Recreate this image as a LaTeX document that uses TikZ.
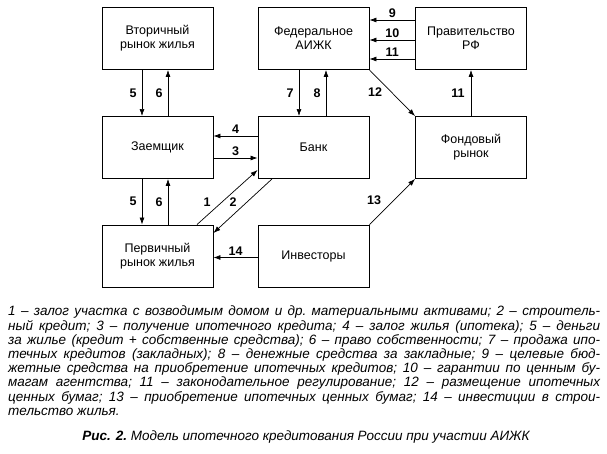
\documentclass[tikz,border=0pt]{standalone}
\usepackage{fontspec}
\setmainfont{Liberation Sans}
\usetikzlibrary{arrows.meta}

\begin{document}
\begin{tikzpicture}[x=1pt,y=-1pt,
  box/.style={draw, line width=0.9pt, minimum width=111pt, minimum height=62pt,
    inner sep=0pt, align=center, font=\fontsize{12.5}{14}\selectfont},
  arr/.style={-{Latex[length=7pt,width=5pt]}, line width=0.7pt},
  num/.style={font=\bfseries\fontsize{12.5}{14}\selectfont, inner sep=1pt}]
  \useasboundingbox (0,0) rectangle (607,454);
  % boxes
  \node[box] (vtor) at (157.5,38.5) {Вторичный\\рынок жилья};
  \node[box] (fed)  at (313.5,38.5) {Федеральное\\АИЖК};
  \node[box] (prav) at (471,38.5)   {Правительство\\РФ};
  \node[box] (zaem) at (157.5,147.5) {Заемщик};
  \node[box] (bank) at (313.5,147.5) {Банк};
  \node[box] (fond) at (471,147.5)   {Фондовый\\рынок};
  \node[box] (perv) at (157.5,256) {Первичный\\рынок жилья};
  \node[box] (inv)  at (313.5,256) {Инвесторы};
  % flows
  \draw[arr] ([xshift=-15.5pt]vtor.south) -- ([xshift=-15.5pt]zaem.north) node[num,midway,left=4pt] (l5a) {5};
  \draw[arr] ([xshift=10.5pt]zaem.north) -- ([xshift=10.5pt]vtor.south) node[num,midway,left=4pt] (l6a) {6};
  \draw[arr] ([xshift=-15.5pt]zaem.south) -- ([xshift=-15.5pt]perv.north) node[num,midway,left=4pt] (l5b) {5};
  \draw[arr] ([xshift=10.5pt]perv.north) -- ([xshift=10.5pt]zaem.south) node[num,midway,left=4pt] (l6b) {6};
  \draw[arr] ([xshift=-14.5pt]fed.south) -- ([xshift=-14.5pt]bank.north) node[num,midway,left=4pt] (l7) {7};
  \draw[arr] ([xshift=12.5pt]bank.north) -- ([xshift=12.5pt]fed.south) node[num,midway,left=4pt] (l8) {8};
  \draw[arr] ([yshift=18.5pt]prav.west) -- ([yshift=18.5pt]fed.east) node[num,midway,above=1pt] (l9) {9};
  \draw[arr] ([yshift=-1.5pt]prav.west) -- ([yshift=-1.5pt]fed.east) node[num,midway,above=1pt] (l10) {10};
  \draw[arr] ([yshift=-20.5pt]prav.west) -- ([yshift=-20.5pt]fed.east) node[num,midway,above=1pt] (l11a) {11};
  \draw[arr] (fond.north) -- (prav.south) node[num,midway,left=5pt] (l11b) {11};
  \draw[arr] (fed.south east) -- (fond.north west);
  \node[num] (l12) at (375,92) {12};
  \draw[arr] ([yshift=11.5pt]bank.west) -- ([yshift=11.5pt]zaem.east) node[num,midway,above=1pt] (l4) {4};
  \draw[arr] ([yshift=-10.5pt]zaem.east) -- ([yshift=-10.5pt]bank.west) node[num,midway,above=1pt] (l3) {3};
  \draw[arr] ([xshift=39.5pt]perv.north) -- ([yshift=-22.5pt]bank.west);
  \node[num] (l1) at (207,202) {1};
  \draw[arr] ([xshift=-41.5pt]bank.south) -- ([yshift=23pt]perv.east);
  \node[num] (l2) at (233,202) {2};
  \draw[arr] ([yshift=-1.5pt]inv.west) -- ([yshift=-1.5pt]perv.east) node[num,midway,above=1pt] (l14) {14};
  \draw[arr] (inv.north east) -- (fond.south west);
  \node[num] (l13) at (374,200) {13};
  % legend
  \node[anchor=north west, text width=592pt, inner sep=0pt, align=justify,
    font=\itshape\fontsize{13.5}{14.2}\selectfont] (legend) at (8,306)
  {\frenchspacing\tolerance=10000 1 – залог участка с возводимым домом и др. материальными активами; 2 – строитель-\linebreak
  ный кредит; 3 – получение ипотечного кредита; 4 – залог жилья (ипотека); 5 – деньги\linebreak
  за жилье (кредит + собственные средства); 6 – право собственности; 7 – продажа ипо-\linebreak
  течных кредитов (закладных); 8 – денежные средства за закладные; 9 – целевые бюд-\linebreak
  жетные средства на приобретение ипотечных кредитов; 10 – гарантии по ценным бу-\linebreak
  магам агентства; 11 – законодательное регулирование; 12 – размещение ипотечных\linebreak
  ценных бумаг; 13 – приобретение ипотечных ценных бумаг; 14 – инвестиции в строи-\linebreak
  тельство жилья.};
  \node[font=\itshape\fontsize{13.5}{14.2}\selectfont] (caption) at (306,437)
  {\bfseries Рис. 2.\ \mdseries Модель ипотечного кредитования России при участии АИЖК};
\end{tikzpicture}
\end{document}
